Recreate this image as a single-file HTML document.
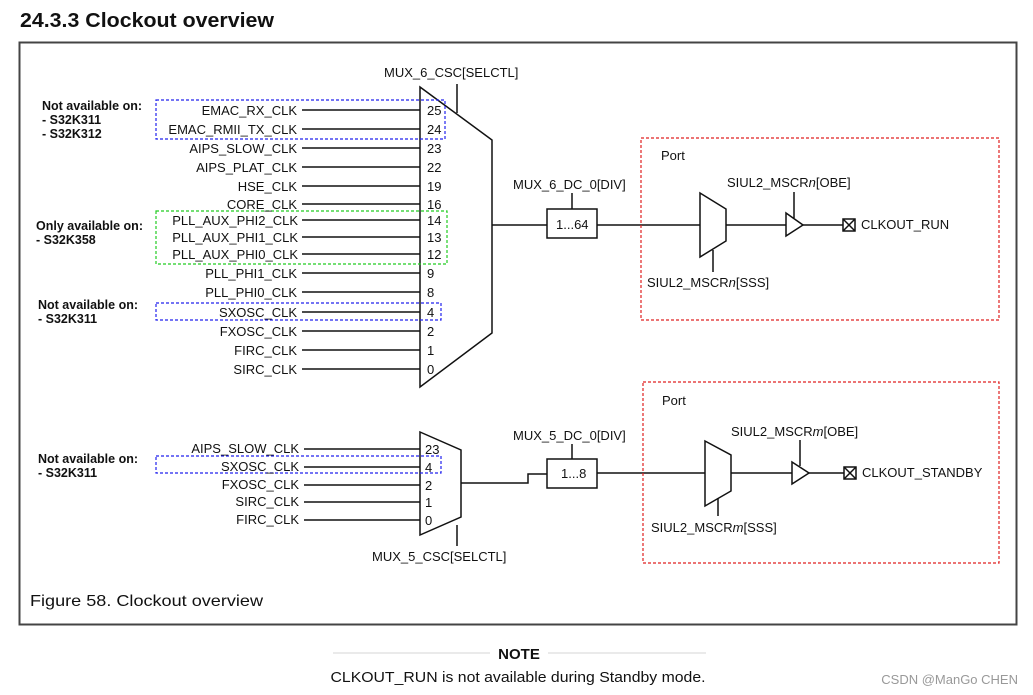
<!DOCTYPE html>
<html><head><meta charset="utf-8"><style>
html,body{margin:0;padding:0;background:#fff;}
svg{display:block;}
text{font-family:"Liberation Sans",Arial,sans-serif;fill:#111;}
</style></head><body>
<svg width="1033" height="695" viewBox="0 0 1033 695" xmlns="http://www.w3.org/2000/svg">
<text x="20" y="27" font-size="20" font-weight="bold" textLength="254" lengthAdjust="spacingAndGlyphs">24.3.3  Clockout overview</text>
<rect x="19.5" y="42.5" width="997" height="582" fill="none" stroke="#444" stroke-width="2"/>

<g stroke="#111" stroke-width="1.5" fill="none">
<polygon points="420,87 492,140 492,333 420,387" fill="#fff"/>
<line x1="457" y1="84" x2="457" y2="113"/>
<line x1="492" y1="225" x2="547" y2="225"/>
<rect x="547" y="209" width="50" height="29" fill="#fff"/>
<line x1="572" y1="193" x2="572" y2="209"/>
<line x1="597" y1="225" x2="700" y2="225"/>
<polygon points="700,193 726,209 726,241 700,257" fill="#fff"/>
<line x1="713" y1="250" x2="713" y2="272"/>
<line x1="726" y1="225" x2="786" y2="225"/>
<polygon points="786,213 803,225 786,236" fill="#fff"/>
<line x1="794" y1="192" x2="794" y2="218"/>
<line x1="803" y1="225" x2="843" y2="225"/>
<rect x="843" y="219" width="12" height="12"/>
<line x1="843" y1="219" x2="855" y2="231"/><line x1="855" y1="219" x2="843" y2="231"/>
<line x1="302" y1="110" x2="420" y2="110"/>
<line x1="302" y1="129" x2="420" y2="129"/>
<line x1="302" y1="148" x2="420" y2="148"/>
<line x1="302" y1="167" x2="420" y2="167"/>
<line x1="302" y1="186" x2="420" y2="186"/>
<line x1="302" y1="204" x2="420" y2="204"/>
<line x1="302" y1="220" x2="420" y2="220"/>
<line x1="302" y1="237" x2="420" y2="237"/>
<line x1="302" y1="254" x2="420" y2="254"/>
<line x1="302" y1="273" x2="420" y2="273"/>
<line x1="302" y1="292" x2="420" y2="292"/>
<line x1="302" y1="312" x2="420" y2="312"/>
<line x1="302" y1="331" x2="420" y2="331"/>
<line x1="302" y1="350" x2="420" y2="350"/>
<line x1="302" y1="369" x2="420" y2="369"/>
<polygon points="420,432 461,450 461,517 420,535" fill="#fff"/>
<line x1="457" y1="525" x2="457" y2="546"/>
<polyline points="461,483 528,483 528,474 547,474"/>
<rect x="547" y="459" width="50" height="29" fill="#fff"/>
<line x1="572" y1="444" x2="572" y2="459"/>
<line x1="597" y1="473" x2="705" y2="473"/>
<polygon points="705,441 731,455 731,491 705,506" fill="#fff"/>
<line x1="718" y1="498" x2="718" y2="516"/>
<line x1="731" y1="473" x2="792" y2="473"/>
<polygon points="792,462 809,473 792,484" fill="#fff"/>
<line x1="800" y1="440" x2="800" y2="466"/>
<line x1="809" y1="473" x2="844" y2="473"/>
<rect x="844" y="467" width="12" height="12"/>
<line x1="844" y1="467" x2="856" y2="479"/><line x1="856" y1="467" x2="844" y2="479"/>
<line x1="304" y1="449" x2="420" y2="449"/>
<line x1="304" y1="467" x2="420" y2="467"/>
<line x1="304" y1="485" x2="420" y2="485"/>
<line x1="304" y1="502" x2="420" y2="502"/>
<line x1="304" y1="520" x2="420" y2="520"/>
</g>

<g fill="none" stroke-width="1.2" stroke-dasharray="3,2">
<rect x="156" y="100" width="289" height="39" stroke="#2222ee"/>
<rect x="156" y="211" width="291" height="53" stroke="#22cc22"/>
<rect x="156" y="303" width="285" height="17" stroke="#2222ee"/>
<rect x="156" y="456" width="285" height="17" stroke="#2222ee"/>
<rect x="641" y="138" width="358" height="182" stroke="#e02020"/>
<rect x="643" y="382" width="356" height="181" stroke="#e02020"/>
</g>

<g font-size="13" text-anchor="end">
<text x="297" y="115">EMAC_RX_CLK</text>
<text x="297" y="134">EMAC_RMII_TX_CLK</text>
<text x="297" y="153">AIPS_SLOW_CLK</text>
<text x="297" y="172">AIPS_PLAT_CLK</text>
<text x="297" y="191">HSE_CLK</text>
<text x="297" y="209">CORE_CLK</text>
<text x="298" y="225">PLL_AUX_PHI2_CLK</text>
<text x="298" y="242">PLL_AUX_PHI1_CLK</text>
<text x="298" y="259">PLL_AUX_PHI0_CLK</text>
<text x="297" y="278">PLL_PHI1_CLK</text>
<text x="297" y="297">PLL_PHI0_CLK</text>
<text x="297" y="317">SXOSC_CLK</text>
<text x="297" y="336">FXOSC_CLK</text>
<text x="297" y="355">FIRC_CLK</text>
<text x="297" y="374">SIRC_CLK</text>
<text x="299" y="453">AIPS_SLOW_CLK</text>
<text x="299" y="471">SXOSC_CLK</text>
<text x="299" y="489">FXOSC_CLK</text>
<text x="299" y="506">SIRC_CLK</text>
<text x="299" y="524">FIRC_CLK</text>
</g>
<g font-size="13">
<text x="427" y="115">25</text><text x="427" y="134">24</text><text x="427" y="153">23</text>
<text x="427" y="172">22</text><text x="427" y="191">19</text><text x="427" y="209">16</text>
<text x="427" y="225">14</text><text x="427" y="242">13</text><text x="427" y="259">12</text>
<text x="427" y="278">9</text><text x="427" y="297">8</text><text x="427" y="317">4</text>
<text x="427" y="336">2</text><text x="427" y="355">1</text><text x="427" y="374">0</text>
<text x="425" y="454">23</text><text x="425" y="472">4</text><text x="425" y="490">2</text>
<text x="425" y="507">1</text><text x="425" y="525">0</text>
<text x="384" y="77">MUX_6_CSC[SELCTL]</text>
<text x="513" y="189">MUX_6_DC_0[DIV]</text>
<text x="556" y="229">1...64</text>
<text x="661" y="160">Port</text>
<text x="727" y="187">SIUL2_MSCR<tspan font-style="italic">n</tspan>[OBE]</text>
<text x="647" y="287">SIUL2_MSCR<tspan font-style="italic">n</tspan>[SSS]</text>
<text x="861" y="229">CLKOUT_RUN</text>
<text x="513" y="440">MUX_5_DC_0[DIV]</text>
<text x="561" y="478">1...8</text>
<text x="372" y="561">MUX_5_CSC[SELCTL]</text>
<text x="662" y="405">Port</text>
<text x="731" y="436">SIUL2_MSCR<tspan font-style="italic">m</tspan>[OBE]</text>
<text x="651" y="532">SIUL2_MSCR<tspan font-style="italic">m</tspan>[SSS]</text>
<text x="862" y="477">CLKOUT_STANDBY</text>
</g>
<g font-size="12.5" font-weight="bold">
<text x="42" y="110">Not available on:</text>
<text x="42" y="124">- S32K311</text>
<text x="42" y="138">- S32K312</text>
<text x="36" y="230">Only available on:</text>
<text x="36" y="244">- S32K358</text>
<text x="38" y="309">Not available on:</text>
<text x="38" y="323">- S32K311</text>
<text x="38" y="463">Not available on:</text>
<text x="38" y="477">- S32K311</text>
</g>
<text x="30" y="606" font-size="16" textLength="233" lengthAdjust="spacingAndGlyphs">Figure 58.  Clockout overview</text>
<line x1="333" y1="653" x2="490" y2="653" stroke="#e4e4e4" stroke-width="1.5"/>
<line x1="548" y1="653" x2="706" y2="653" stroke="#e4e4e4" stroke-width="1.5"/>
<text x="519" y="659" font-size="15" font-weight="bold" text-anchor="middle">NOTE</text>
<text x="518" y="682" font-size="15" text-anchor="middle" textLength="375" lengthAdjust="spacingAndGlyphs">CLKOUT_RUN is not available during Standby mode.</text>
<text x="1018" y="684" font-size="13" text-anchor="end" style="fill:#999">CSDN @ManGo CHEN</text>
</svg>
</body></html>
